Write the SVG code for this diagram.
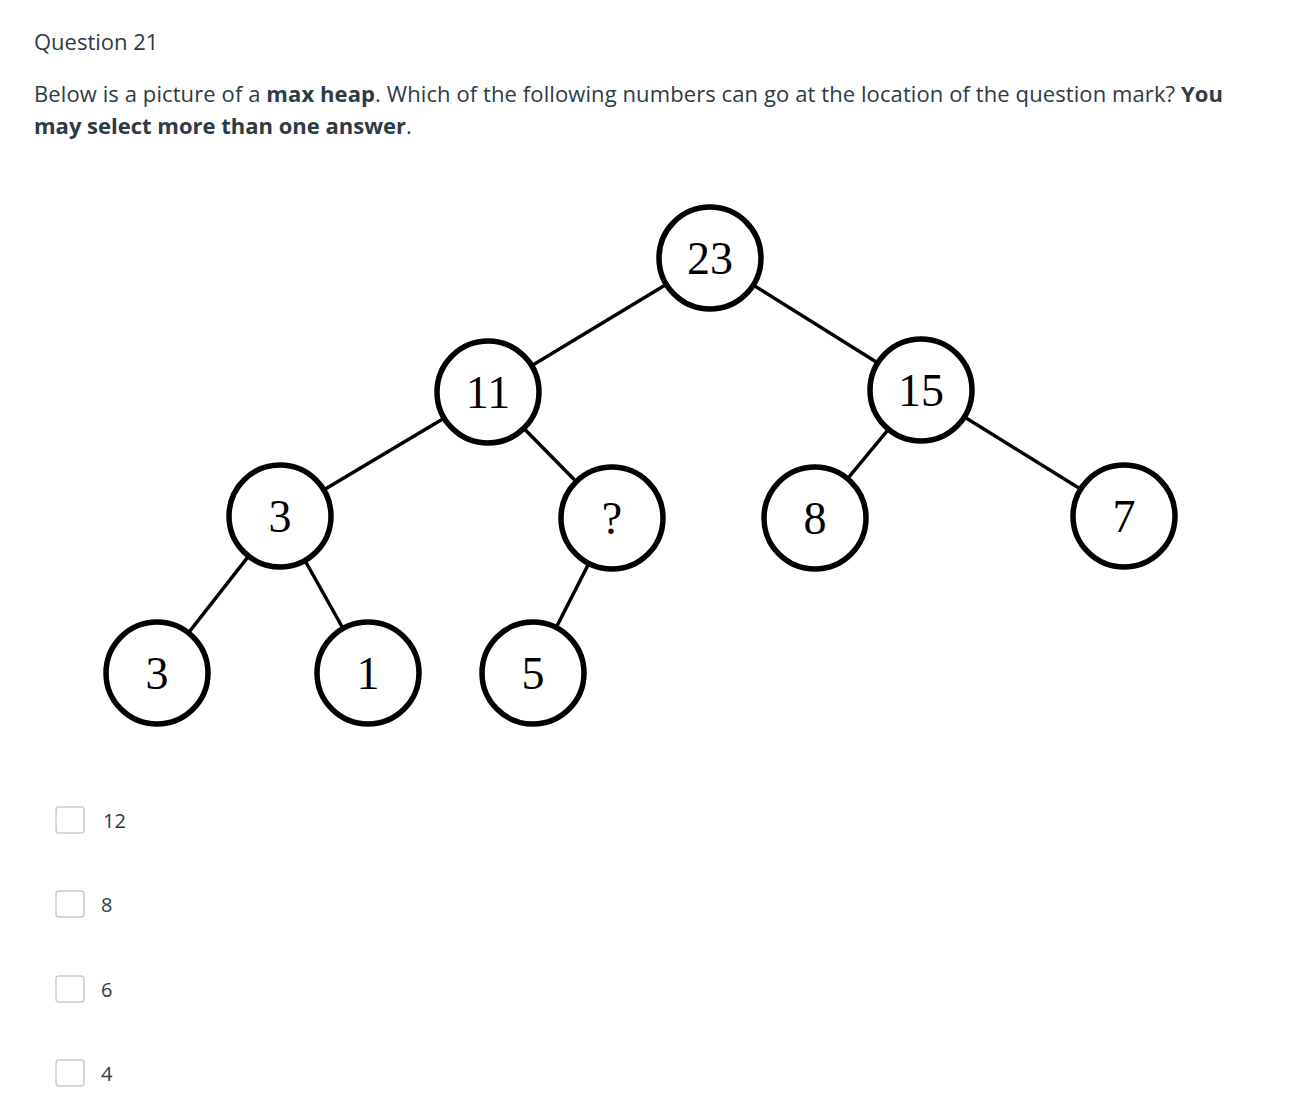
<svg xmlns="http://www.w3.org/2000/svg" width="1302" height="1118" viewBox="0 0 1302 1118">
<style>
.t{font-family:"Open Sans",sans-serif;font-size:22px;fill:#2d3b45}
.o{font-size:20px}
.b{font-weight:bold}
.n circle{fill:#fff;stroke:#000;stroke-width:5.5}
.n text{font-family:"Liberation Serif",serif;font-size:46px;text-anchor:middle;fill:#000}
.e line{stroke:#000;stroke-width:3.5}
.cb{fill:#fff;stroke:#c7cdd1;stroke-width:1.5}
</style>
<rect width="1302" height="1118" fill="#fff"/>
<text class="t" x="34" y="50">Question 21</text>
<text class="t" x="34" y="102" textLength="1189" lengthAdjust="spacing">Below is a picture of a <tspan class="b">max heap</tspan>.  Which of the following numbers can go at the location of the question mark?  <tspan class="b">You</tspan></text>
<text class="t b" x="34" y="134">may select more than one answer<tspan font-weight="normal">.</tspan></text>
<g class="e" id="connectors">
<line x1="710" y1="258" x2="488" y2="392"/>
<line x1="710" y1="258" x2="921" y2="390"/>
<line x1="488" y1="392" x2="280" y2="516"/>
<line x1="488" y1="392" x2="612" y2="518"/>
<line x1="921" y1="390" x2="815" y2="518"/>
<line x1="921" y1="390" x2="1124" y2="516"/>
<line x1="280" y1="516" x2="157" y2="673"/>
<line x1="280" y1="516" x2="368" y2="673"/>
<line x1="612" y1="518" x2="533" y2="673"/>
</g>
<g class="n" id="n23"><circle cx="710" cy="258" r="51"/><text x="710" y="274">23</text></g>
<g class="n" id="n11"><circle cx="488" cy="392" r="51"/><text x="488" y="408">11</text></g>
<g class="n" id="n15"><circle cx="921" cy="390" r="51"/><text x="921" y="406">15</text></g>
<g class="n" id="n3a"><circle cx="280" cy="516" r="51"/><text x="280" y="532">3</text></g>
<g class="n" id="nq"><circle cx="612" cy="518" r="51"/><text x="612" y="534">?</text></g>
<g class="n" id="n8"><circle cx="815" cy="518" r="51"/><text x="815" y="534">8</text></g>
<g class="n" id="n7"><circle cx="1124" cy="516" r="51"/><text x="1124" y="532">7</text></g>
<g class="n" id="n3b"><circle cx="157" cy="673" r="51"/><text x="157" y="689">3</text></g>
<g class="n" id="n1"><circle cx="368" cy="673" r="51"/><text x="368" y="689">1</text></g>
<g class="n" id="n5"><circle cx="533" cy="673" r="51"/><text x="533" y="689">5</text></g>
<rect class="cb" x="56" y="807" width="28" height="26" rx="3"/><text class="t o" x="103" y="828">12</text>
<rect class="cb" x="56" y="891" width="28" height="26" rx="3"/><text class="t o" x="101" y="912">8</text>
<rect class="cb" x="56" y="976" width="28" height="26" rx="3"/><text class="t o" x="101" y="997">6</text>
<rect class="cb" x="56" y="1060" width="28" height="26" rx="3"/><text class="t o" x="101" y="1081">4</text>
</svg>
